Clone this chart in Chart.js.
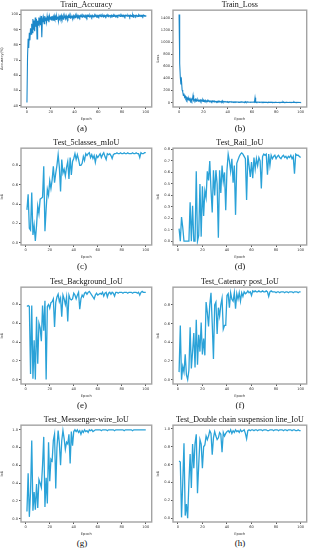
<!DOCTYPE html>
<html lang="en">
  <head>
    <meta charset="utf-8" />
    <title>Training and test curves</title>
    <style>
      * {
        margin: 0;
        padding: 0;
      }
      body {
        width: 313px;
        height: 550px;
        background: #fff;
        position: relative;
        overflow: hidden;
        font-family: "Liberation Serif", serif;
      }
      canvas {
        position: absolute;
      }
      .title,
      .cap {
        position: absolute;
        white-space: nowrap;
        line-height: 1;
        transform: translate(-50%, -50%);
        color: #111;
      }
      .title {
        font-size: 8px;
      }
      .cap {
        font-size: 9px;
      }
    </style>
  </head>
  <body>
    <script src="https://cdn.jsdelivr.net/npm/chart.js"></script>
    <script>
      // tick labels
      const epochTicks = [0, 20, 40, 60, 80, 100];
      const accTicks = [40, 50, 60, 70, 80, 90, 100];
      const lossTicks = [0, 200, 400, 600, 800, 1000, 1200, 1400];
      const iouTicks = [0, 0.2, 0.4, 0.6, 0.8];
      const railTicks = [0, 0.1, 0.2, 0.3, 0.4, 0.5, 0.6, 0.7, 0.8];
      const iouTicksFull = [0, 0.2, 0.4, 0.6, 0.8, 1.0];

      // train curves, one value every half epoch (0 .. 100)
      const trainAcc = [
        42, 72, 84, 78, 88, 83, 91, 87, 94, 88, 97, 90, 96, 89, 98, 92, 97, 84, 96, 93,
        98, 94, 97, 93, 99, 85, 97, 95, 98, 94, 99, 96, 98, 95, 99, 96, 98, 95, 99, 97,
        98.5,
        96.5, 99, 97, 98.5, 96, 99.2, 97.5, 98.8, 96.8, 99, 97.2, 98.6, 95.5, 99.1, 97.8, 98.9, 97, 99.3, 97.5, 98.7,
        96.9, 99.2, 98, 98.8, 97.3, 99.4, 97.9, 98.6, 97.5, 99.3, 98.1, 99, 97.6, 99.4, 98.2, 98.8, 97.8, 99.3, 98.3, 99.1,
        98, 99.4, 98.4, 99.2, 97.9, 99.5, 98.5, 99.1, 98.2, 99.4, 98.6, 99.2, 98.3, 99.5, 98.7, 99.1, 98.4, 99.5, 98.6, 99.3,
        98.2, 99.5, 98.8, 99.2, 98.5, 99.6, 98.7, 99.3, 98.4, 99.5, 98.8, 99.2, 98.6, 99.6, 98.9, 99.3, 98.5, 99.5, 98.8, 99.4,
        98.7, 99.6, 98.9, 99.3, 98.6, 99.5, 98.9, 99.4, 98.5, 99.6, 99, 99.3, 98.7, 99.6, 98.9, 99.4, 98.6, 99.5, 99, 99.3,
        98.8, 99.6, 98.9, 99.4, 98.7, 99.6, 99, 99.3, 98.6, 99.5, 98.9, 99.4, 98.8, 99.6, 99.1, 99.3, 98.7, 99.6, 98.9, 99.5,
        98.8, 99.6, 99, 99.4, 98.6, 99.5, 99.1, 99.3, 98.9, 99.7, 99, 99.4, 98.5, 99.6, 99.1, 99.4, 98.8, 99.7, 98.2, 99.5,
        99, 99.4, 98.8, 99.6, 99.1, 99.3, 98.7, 99.7, 99, 99.4, 98.9, 99.6, 99.1, 99.5, 98.8, 99.7, 99.2, 99.4, 99, 99.6,
      ];
      const trainLoss = [
        1460, 650, 420, 300, 360, 210, 180, 120, 150, 90, 110, 70, 85, 50, 75, 45, 70, 40, 65, 35,
        60, 30, 55, 120, 35, 50, 30, 55, 25, 45, 30, 50, 25, 40, 30, 45, 20, 40, 25, 45,
        20,
        35, 18, 40, 20, 30, 15, 35, 22, 28, 15, 30, 18, 25, 12, 28, 16, 22, 12, 25, 14,
        20, 10, 22, 13, 24, 11, 18, 10, 20, 12, 30, 10, 18, 9, 16, 10, 15, 8, 17, 9,
        14, 8, 15, 9, 12, 7, 14, 8, 11, 7, 13, 6, 12, 8, 10, 6, 12, 7, 10, 6,
        11, 5, 12, 7, 9, 5, 10, 6, 18, 5, 9, 6, 10, 5, 8, 6, 9, 5, 8, 6,
        8, 5, 9, 4, 80, 5, 8, 4, 9, 5, 7, 4, 8, 5, 7, 4, 8, 3, 7, 4,
        6, 3, 7, 4, 6, 3, 7, 4, 6, 3, 6, 4, 7, 3, 6, 3, 5, 3, 6, 3,
        5, 3, 6, 3, 5, 2, 6, 3, 5, 2, 14, 3, 5, 2, 6, 3, 5, 2, 4, 2,
        5, 3, 4, 2, 5, 2, 4, 2, 12, 2, 4, 2, 5, 2, 4, 2, 3, 2, 4, 2,
      ];

      // test curves, one value per epoch (1 .. 100)
      const mIoU5 = [
        0.34, 0.50, 0.15, 0.13, 0.52, 0.08, 0.18, 0.02, 0.18, 0.38,
        0.30, 0.45, 0.46, 0.47, 0.79, 0.12, 0.35, 0.55, 0.49, 0.64,
        0.56, 0.65, 0.79, 0.62, 0.72, 0.80, 0.91, 0.78, 0.53, 0.86,
        0.72, 0.76, 0.69, 0.78, 0.84, 0.66, 0.88, 0.70, 0.84, 0.87,
        0.92, 0.86, 0.91, 0.86, 0.80, 0.80, 0.82, 0.89, 0.85, 0.92,
        0.90, 0.92, 0.93, 0.88, 0.91, 0.87, 0.90, 0.83, 0.90, 0.88,
        0.90, 0.92, 0.88, 0.91, 0.93, 0.89, 0.86, 0.92, 0.91, 0.92,
        0.90, 0.87, 0.91, 0.92, 0.92, 0.93, 0.92, 0.92, 0.93, 0.92,
        0.92, 0.93, 0.92, 0.92, 0.93, 0.92, 0.92, 0.92, 0.93, 0.92,
        0.92, 0.93, 0.92, 0.92, 0.88, 0.93, 0.92, 0.92, 0.93, 0.93,
      ];
      const railIoU = [
        0.11, 0.00, 0.21, 0.12, 0.00, 0.00, 0.00, 0.00, 0.00, 0.34,
        0.00, 0.31, 0.00, 0.00, 0.61, 0.00, 0.05, 0.50, 0.04, 0.48,
        0.22, 0.44, 0.38, 0.61, 0.53, 0.70, 0.45, 0.25, 0.62, 0.40,
        0.62, 0.50, 0.03, 0.62, 0.42, 0.66, 0.52, 0.60, 0.27, 0.62,
        0.76, 0.70, 0.61, 0.72, 0.51, 0.66, 0.23, 0.68, 0.71, 0.74,
        0.76, 0.77, 0.76, 0.74, 0.72, 0.36, 0.75, 0.66, 0.56, 0.69,
        0.55, 0.73, 0.63, 0.72, 0.66, 0.73, 0.70, 0.46, 0.74, 0.76,
        0.75, 0.76, 0.58, 0.76, 0.66, 0.75, 0.72, 0.74, 0.75, 0.72,
        0.74, 0.75, 0.73, 0.72, 0.74, 0.75, 0.73, 0.74, 0.72, 0.74,
        0.73, 0.75, 0.72, 0.74, 0.59, 0.76, 0.75, 0.75, 0.74, 0.73,
      ];
      const backgroundIoU = [
        0.78, 0.79, 0.78, 0.06, 0.79, 0.01, 0.42, 0.00, 0.67, 0.17,
        0.60, 0.55, 0.41, 0.79, 0.52, 0.84, 0.00, 0.78, 0.80, 0.76,
        0.82, 0.83, 0.86, 0.56, 0.82, 0.88, 0.91, 0.83, 0.87, 0.67,
        0.90, 0.86, 0.80, 0.88, 0.62, 0.90, 0.86, 0.85, 0.86, 0.92,
        0.90, 0.86, 0.90, 0.93, 0.75, 0.86, 0.90, 0.88, 0.92, 0.93,
        0.91, 0.93, 0.94, 0.92, 0.90, 0.88, 0.86, 0.90, 0.92, 0.90,
        0.91, 0.92, 0.91, 0.93, 0.89, 0.92, 0.93, 0.88, 0.92, 0.93,
        0.91, 0.93, 0.92, 0.89, 0.93, 0.93, 0.92, 0.93, 0.93, 0.93,
        0.92, 0.93, 0.93, 0.93, 0.92, 0.93, 0.93, 0.93, 0.92, 0.93,
        0.93, 0.93, 0.92, 0.93, 0.90, 0.93, 0.94, 0.93, 0.93, 0.93,
      ];
      const postIoU = [
        0.08, 0.58, 0.00, 0.14, 0.08, 0.27, 0.05, 0.00, 0.10, 0.56,
        0.12, 0.30, 0.50, 0.13, 0.64, 0.16, 0.48, 0.30, 0.61, 0.27,
        0.44, 0.26, 0.83, 0.72, 0.57, 0.80, 0.93, 0.60, 0.22, 0.80,
        0.83, 0.49, 0.77, 0.68, 0.80, 0.87, 0.54, 0.58, 0.58, 0.90,
        0.92, 0.77, 0.93, 0.86, 0.84, 0.93, 0.76, 0.92, 0.86, 0.93,
        0.84, 0.93, 0.89, 0.94, 0.92, 0.93, 0.95, 0.93, 0.94, 0.90,
        0.95, 0.94, 0.95, 0.94, 0.94, 0.95, 0.94, 0.94, 0.95, 0.94,
        0.94, 0.95, 0.94, 0.89, 0.94, 0.95, 0.94, 0.94, 0.94, 0.93,
        0.94, 0.94, 0.93, 0.94, 0.94, 0.94, 0.93, 0.94, 0.94, 0.93,
        0.94, 0.94, 0.94, 0.93, 0.94, 0.94, 0.94, 0.93, 0.94, 0.94,
      ];
      const wireIoU = [
        0.08, 0.51, 0.02, 0.30, 0.88, 0.09, 0.30, 0.10, 0.39, 0.12,
        0.44, 0.40, 0.35, 0.60, 0.92, 0.13, 0.46, 0.17, 0.86, 0.42,
        0.67, 0.65, 0.88, 0.95, 0.34, 0.80, 0.99, 0.85, 0.60, 0.88,
        0.99, 0.90, 0.78, 0.86, 0.84, 0.95, 0.62, 0.98, 0.82, 0.98,
        1.00, 0.98, 1.00, 0.97, 0.99, 0.95, 0.99, 0.97, 1.00, 0.98,
        0.99, 0.97, 1.00, 0.99, 1.00, 0.98, 0.99, 1.00, 1.00, 1.00,
        1.00, 1.00, 0.99, 1.00, 1.00, 1.00, 1.00, 0.99, 1.00, 1.00,
        1.00, 1.00, 1.00, 0.99, 1.00, 1.00, 1.00, 1.00, 1.00, 1.00,
        1.00, 0.99, 1.00, 1.00, 1.00, 1.00, 1.00, 1.00, 0.99, 1.00,
        1.00, 1.00, 1.00, 1.00, 1.00, 1.00, 1.00, 1.00, 1.00, 1.00,
      ];
      const chainIoU = [
        0.64, 0.63, 0.01, 0.40, 0.84, 0.03, 0.16, 0.00, 0.40, 0.72,
        0.34, 0.83, 0.56, 0.84, 0.94, 0.28, 0.60, 0.88, 0.83, 0.56,
        0.80, 0.82, 0.92, 0.88, 0.92, 0.98, 0.95, 0.71, 0.90, 0.97,
        0.92, 0.88, 0.90, 0.96, 0.94, 0.74, 0.96, 0.92, 0.95, 0.97,
        0.98, 0.96, 0.99, 0.95, 0.98, 0.96, 0.99, 0.97, 0.98, 0.96,
        0.99, 0.97, 0.98, 0.99, 0.95, 0.89, 0.98, 0.99, 0.98, 0.99,
        0.99, 0.98, 0.99, 0.99, 0.98, 0.99, 0.99, 0.99, 0.98, 0.99,
        0.99, 0.99, 0.98, 0.98, 0.99, 0.99, 0.99, 0.98, 0.99, 0.99,
        0.99, 0.98, 0.99, 0.99, 0.99, 0.98, 0.99, 0.99, 0.98, 0.99,
        0.99, 0.99, 0.98, 0.99, 0.99, 0.98, 0.98, 0.99, 0.98, 0.98,
      ];

      const panels = [
        { cap: "(a)", title: "Train_Accuracy", yLabel: "Accuracy(%)", data: trainAcc, train: true, yMin: 39.1, yMax: 102.9, ticks: accTicks },
        { cap: "(b)", title: "Train_Loss", yLabel: "Loss", data: trainLoss, train: true, yMin: -73, yMax: 1533, ticks: lossTicks },
        { cap: "(c)", title: "Test_5classes_mIoU", yLabel: "IoU", data: mIoU5, yMin: -0.023, yMax: 0.977, ticks: iouTicks },
        { cap: "(d)", title: "Test_Rail_IoU", yLabel: "IoU", data: railIoU, yMin: -0.033, yMax: 0.812, ticks: railTicks },
        { cap: "(e)", title: "Test_Background_IoU", yLabel: "IoU", data: backgroundIoU, yMin: -0.047, yMax: 0.985, ticks: iouTicks },
        { cap: "(f)", title: "Test_Catenary post_IoU", yLabel: "IoU", data: postIoU, yMin: -0.047, yMax: 0.99, ticks: iouTicks },
        { cap: "(g)", title: "Test_Messenger-wire_IoU", yLabel: "IoU", data: wireIoU, yMin: -0.038, yMax: 1.052, ticks: iouTicksFull },
        { cap: "(h)", title: "Test_Double chain suspension line_IoU", yLabel: "IoU", data: chainIoU, yMin: -0.042, yMax: 1.042, ticks: iouTicksFull },
      ];

      Chart.defaults.font.family = "'DejaVu Sans', sans-serif";
      Chart.defaults.color = "#333";

      // grey box round the plot area, like matplotlib spines
      const frame = {
        id: "frame",
        afterDraw(chart) {
          const a = chart.chartArea;
          const ctx = chart.ctx;
          ctx.save();
          ctx.strokeStyle = "#a3a3a3";
          ctx.lineWidth = 1.4;
          ctx.strokeRect(a.left, a.top, a.right - a.left, a.bottom - a.top);
          ctx.restore();
        },
      };

      const rowTops = [10, 148, 287, 425];
      const plotH = 97;

      panels.forEach((p, i) => {
        const col = i % 2;
        const top = rowTops[Math.floor(i / 2)];
        const cvLeft = col ? 156 : 0;
        const cvW = col ? 157 : 156;
        const yW = col ? 17 : 21;
        const padR = col ? 6.3 : 4.3;

        const canvas = document.createElement("canvas");
        canvas.width = cvW;
        canvas.height = 3 + plotH + 14;
        canvas.style.left = cvLeft + "px";
        canvas.style.top = top - 3 + "px";
        document.body.appendChild(canvas);

        const boxL = cvLeft + yW;
        const boxR = cvLeft + cvW - padR;

        const t = document.createElement("div");
        t.className = "title";
        t.textContent = p.title;
        t.style.left = (boxL + boxR) / 2 + "px";
        t.style.top = top - 5 + "px";
        document.body.appendChild(t);

        const c = document.createElement("div");
        c.className = "cap";
        c.textContent = p.cap;
        c.style.left = (col ? 240 : 82) + "px";
        c.style.top = top + plotH + 21 + "px";
        document.body.appendChild(c);

        const pts = p.data.map((v, k) => ({ x: p.train ? k / 2 : k + 1, y: v }));

        new Chart(canvas, {
          type: "line",
          data: {
            datasets: [
              {
                data: pts,
                borderColor: p.train ? "#1a87c9" : "#2aa2d8",
                borderWidth: p.train ? 1.1 : 1.3,
                pointRadius: 0,
                tension: 0,
              },
            ],
          },
          options: {
            responsive: false,
            animation: false,
            layout: { padding: { top: 3, right: padR, bottom: 0, left: 0 } },
            plugins: { legend: { display: false }, tooltip: { enabled: false } },
            scales: {
              x: {
                type: "linear",
                min: p.train ? -5 : -3.95,
                max: p.train ? 105 : 104.95,
                afterBuildTicks: (s) => {
                  s.ticks = epochTicks.map((v) => ({ value: v }));
                },
                ticks: { font: { size: 3.6 }, padding: 1, maxRotation: 0, autoSkip: false, callback: (v) => String(v) },
                grid: { drawOnChartArea: false, tickLength: 2, color: "#555" },
                border: { display: false },
                title: { display: true, text: "Epoch", font: { size: 3.6 }, padding: 0 },
                afterFit: (s) => {
                  s.height = 14;
                },
              },
              y: {
                min: p.yMin,
                max: p.yMax,
                afterBuildTicks: (s) => {
                  s.ticks = p.ticks.map((v) => ({ value: v }));
                },
                ticks: {
                  font: { size: 3.6 },
                  padding: 1,
                  autoSkip: false,
                  callback: (v) => (p.train ? String(v) : v.toFixed(1)),
                },
                grid: { drawOnChartArea: false, tickLength: 2, color: "#555" },
                border: { display: false },
                title: { display: true, text: p.yLabel, font: { size: 3.6 }, padding: 0 },
                afterFit: (s) => {
                  s.width = yW;
                },
              },
            },
          },
          plugins: [frame],
        });
      });
    </script>
  </body>
</html>
